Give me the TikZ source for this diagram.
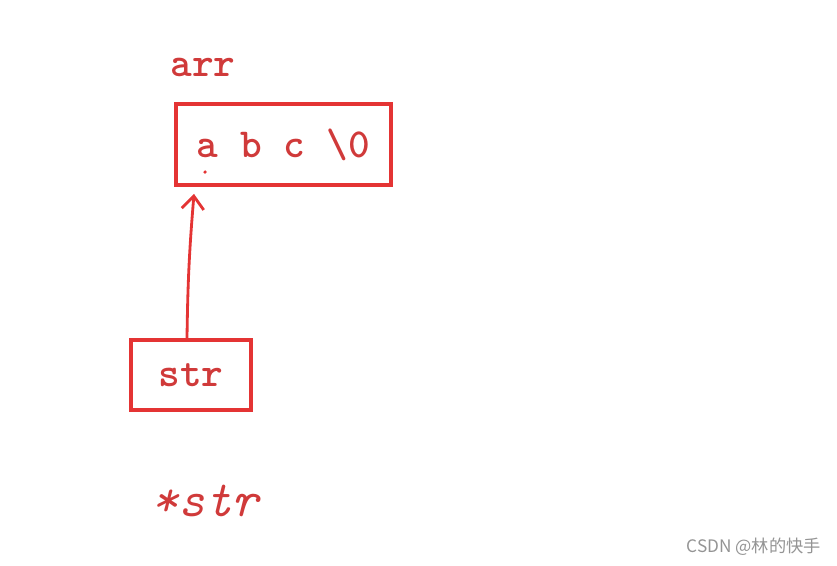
\documentclass[tikz,border=0pt]{standalone}
\usepackage{fontspec}
\newfontfamily\cjkfont{Noto Sans CJK SC}
\usetikzlibrary{arrows.meta,positioning}
\definecolor{penred}{RGB}{228,52,52}
\definecolor{inkred}{RGB}{208,58,58}

\begin{document}
\begin{tikzpicture}[x=0.02cm,y=-0.02cm]
            \tikzstyle{cell} = [draw=penred,line width=2.2pt,text=inkred,inner sep=0pt,font=\fontsize{23.5}{26}\selectfont\ttfamily\bfseries]
            \tikzstyle{tag} = [text=inkred,inner sep=0pt,font=\fontsize{23.5}{26}\selectfont\ttfamily\bfseries]
            \tikzstyle{edge} = [penred,line width=1.6pt,-{Straight Barb[length=2.6mm,width=4.4mm]}]
            \useasboundingbox (0,0) rectangle (837,565);

            \node[cell,minimum width=4.3cm,minimum height=1.62cm] (arr) at (283.5,144.5) {a b c \textbackslash0};
            \node[tag,anchor=base west] (arr-label) at ([xshift=-0.08cm,yshift=0.52cm]arr.north west) {arr};
            \node[cell,minimum width=2.4cm,minimum height=1.4cm] (str) at (191,375) {str};
            \fill[penred] (205,172) circle (1pt);

            \draw[edge] ([xshift=-0.08cm]str.north) to[bend left=2] ([xshift=-1.79cm,yshift=-0.14cm]arr.south);

            \node[tag,font=\fontsize{29}{32}\selectfont\ttfamily\itshape] (deref) at (205,501) {*str};
            \node[anchor=east,text=black!42,inner sep=0pt,font=\fontsize{9.8}{11}\selectfont\cjkfont] (mark) at (821,547) {CSDN @林的快手};
        \end{tikzpicture}
\end{document}
